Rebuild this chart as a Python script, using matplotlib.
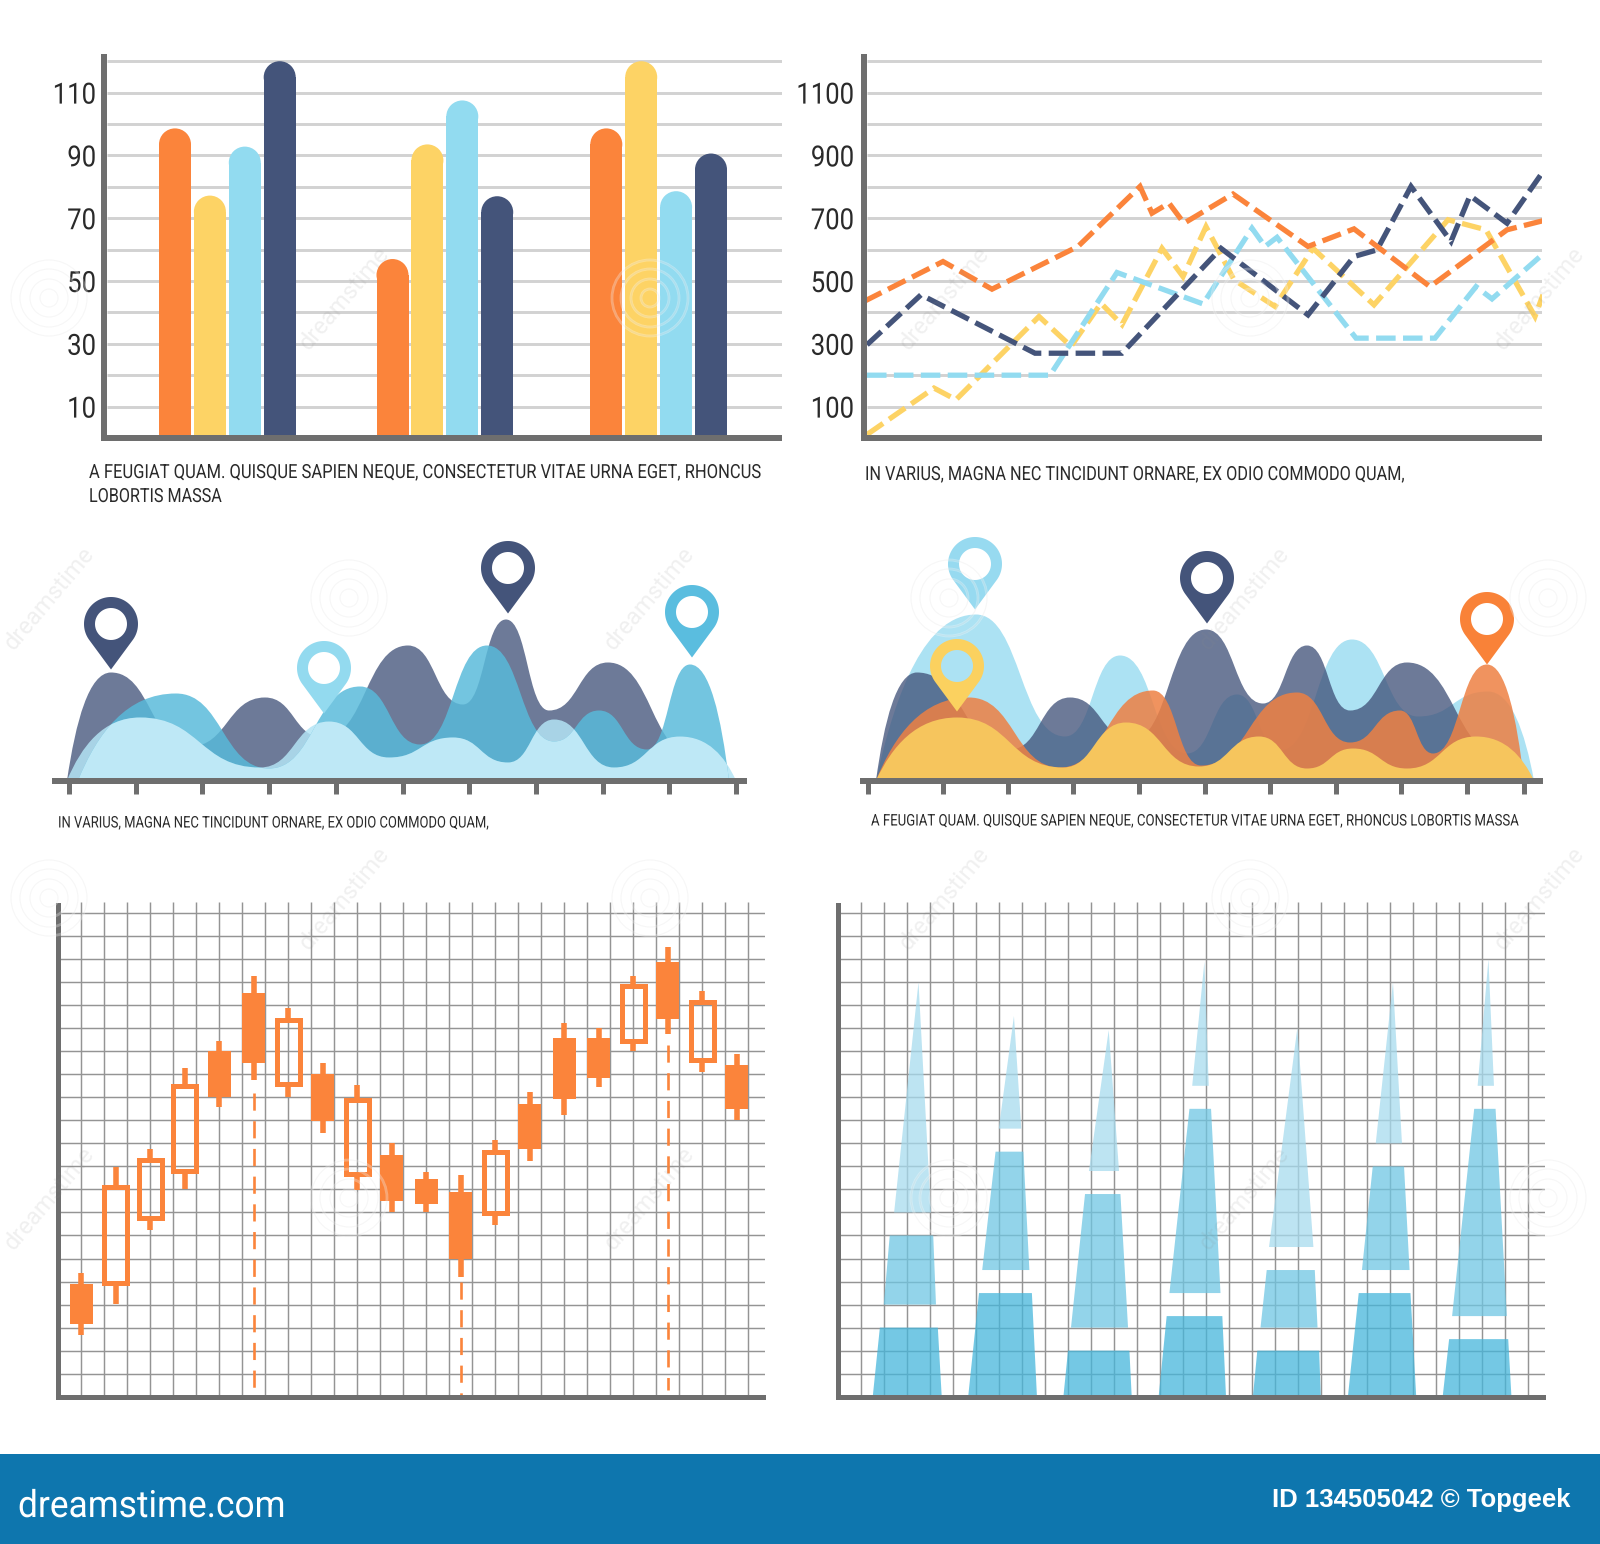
import numpy as np
import matplotlib
matplotlib.use("Agg")
import matplotlib.pyplot as plt
from matplotlib.patches import Circle, Ellipse, PathPatch, Rectangle
from matplotlib.path import Path
from matplotlib.patheffects import AbstractPathEffect
from matplotlib.transforms import Affine2D, Bbox

W, H = 1600, 1544
FONT = ['Roboto', 'DejaVu Sans']

ORANGE = '#FB843B'
YELLOW = '#FDD365'
SKY = '#92DBF0'
NAVY = '#44547A'
GREY = '#6E6E6E'
LIGHTGRID = '#D2D2D2'
CELLGRID = '#949494'
TEXT = '#2A2A2A'

# bar chart
bar_orange = [98.6, 57, 98.6]
bar_yellow = [77.2, 93.5, 120]
bar_sky = [92.8, 107.5, 78.6]
bar_navy = [120, 77, 90.6]
bar_groups = [55, 272.5, 486.3]
bar_ticks = [10, 30, 50, 70, 90, 110]

# dashed lines
orange_x = [0, 79, 128, 214, 276, 288, 305, 320, 369, 444, 490, 566, 643, 679]
orange_y = [435, 562, 474, 610, 801, 716, 748, 684, 777, 610, 666, 482, 663, 692]
yellow_x = [3, 70, 92, 175, 207, 237, 258, 298, 319, 342, 370, 411, 449, 510, 584, 622, 671, 679]
yellow_y = [11, 159, 122, 387, 292, 429, 361, 604, 514, 673, 504, 419, 604, 424, 695, 663, 387, 456]
navy_x = [3, 57, 171, 258, 357, 444, 490, 513, 547, 587, 606, 643, 679]
navy_y = [297, 456, 270, 270, 604, 392, 578, 599, 801, 626, 772, 684, 848]
sky_x = [3, 186, 253, 339, 388, 401, 413, 492, 571, 612, 628, 679]
sky_y = [200, 200, 527, 427, 668, 610, 639, 318, 318, 482, 443, 586]
line_ticks = [100, 300, 500, 700, 900, 1100]

# left wave chart
w1_navy_x = [12, 56, 135, 210, 268, 353, 408, 451, 494, 553, 640, 655]
w1_navy_y = [0, 108, 34, 83, 43, 135, 76, 161, 70, 118, 25, 0]
w1_blue_x = [23, 121, 214, 305, 365, 432, 499, 544, 592, 635, 674]
w1_blue_y = [0, 87, 12, 94, 36, 135, 39, 70, 31, 116, 0]
w1_pale_x = [12, 85, 205, 274, 334, 398, 453, 499, 559, 625, 681]
w1_pale_y = [0, 63, 13, 59, 23, 43, 18, 61, 13, 44, 0]
w1_ticks = [14, 81, 147, 214, 281, 348, 414, 481, 548, 614, 681]
w1_pin_x = [56, 269, 453, 637]
w1_pin_y = [111, 67, 167, 123]
w1_pin_c = ['#44547A', '#93DAEF', '#44547A', '#5ABDDF']

# right wave chart
w2_blue_x = [13, 113, 202, 257, 324, 374, 417, 489, 555, 625, 671]
w2_blue_y = [0, 166, 44, 125, 27, 86, 30, 141, 64, 89, 0]
w2_navy_x = [13, 54, 147, 207, 269, 343, 400, 444, 487, 544, 640, 655]
w2_navy_y = [0, 108, 31, 83, 41, 151, 77, 135, 70, 118, 25, 0]
w2_orange_x = [13, 106, 197, 290, 338, 434, 487, 537, 570, 624, 661]
w2_orange_y = [0, 83, 13, 90, 15, 88, 38, 70, 27, 116, 0]
w2_yellow_x = [13, 94, 200, 263, 336, 396, 444, 490, 544, 613, 671]
w2_yellow_y = [0, 63, 13, 58, 14, 44, 12, 32, 12, 44, 0]
w2_ticks = [5, 80, 145, 210, 276, 342, 407, 473, 538, 604, 661]
w2_pin_x = [112, 344, 624, 94]
w2_pin_y = [171, 157, 116, 69]
w2_pin_c = ['#97DAF0', '#44547A', '#F98238', '#FBD15F']

# candles
candle_high = [5.35, 9.99, 10.74, 14.28, 15.44, 18.26, 16.87, 14.50, 13.53, 11.00,
               9.74, 9.62, 11.14, 13.24, 16.24, 16.02, 18.26, 19.51, 17.63, 14.89]
candle_top = [4.88, 9.12, 10.27, 13.50, 14.99, 17.51, 16.34, 14.01, 12.87, 10.51,
              9.45, 8.89, 10.61, 12.72, 15.57, 15.57, 17.83, 18.87, 17.13, 14.41]
candle_bot = [3.14, 4.92, 7.74, 9.80, 13.02, 14.50, 13.56, 11.98, 9.67, 8.51,
              8.35, 5.96, 7.96, 10.74, 12.91, 13.86, 15.46, 16.38, 14.60, 12.50]
candle_low = [2.68, 4.01, 7.26, 9.00, 12.59, 13.75, 13.00, 11.46, 8.97, 8.03,
              8.03, 5.21, 7.45, 10.22, 12.23, 13.43, 14.99, 15.75, 14.12, 12.01]
candle_hollow = [0, 1, 1, 1, 0, 0, 1, 0, 1, 0, 0, 0, 1, 0, 0, 0, 1, 0, 1, 0]
drop_index = [5, 11, 17]
drop_top = [13.17, 5.0, 15.27]
drop_bot = [0, 0, 0.29]

# stacked trapezoids, x and y in grid cells
t1_left = [1.51, 5.66, 9.80, 13.94, 18.04, 22.17, 26.29]
t1_right = [4.51, 8.65, 12.77, 16.87, 20.99, 25.14, 29.28]
t1_tleft = [1.82, 6.13, 10.00, 14.29, 18.23, 22.64, 26.57]
t1_tright = [4.34, 8.43, 12.67, 16.71, 20.92, 24.89, 29.14]
t1_top = [3, 4.5, 2, 3.5, 2, 4.5, 2.5]
t2_left = [1.99, 6.27, 10.13, 14.41, 18.37, 22.78, 26.70]
t2_right = [4.26, 8.32, 12.61, 16.63, 20.85, 24.85, 29.08]
t2_tleft = [2.25, 6.85, 10.74, 15.28, 18.64, 23.25, 27.66]
t2_tright = [4.14, 8.06, 12.28, 16.22, 20.73, 24.61, 28.59]
t2_bot = [4, 5.5, 3, 4.5, 3, 5.5, 3.5]
t2_top = [7, 10.64, 8.8, 12.5, 5.5, 10, 12.5]
t3_left = [2.44, 6.99, 10.91, 15.40, 18.74, 23.38, 27.81]
t3_right = [4.04, 7.97, 12.22, 16.12, 20.67, 24.52, 28.52]
t3_tip = [3.50, 7.65, 11.77, 15.93, 19.97, 24.13, 28.28]
t3_bot = [8, 11.64, 9.8, 13.5, 6.5, 11, 13.5]
t3_top = [18, 16.53, 15.92, 18.89, 16, 18, 19]

# faint stock photo marks
mark_x = [49, 650, 1250, 349, 949, 1548, 49, 650, 1250, 349, 949, 1548]
mark_y = [298, 298, 298, 598, 598, 598, 898, 898, 898, 1198, 1198, 1198]
stamp_x = [345, 945, 1540, 50, 650, 1245, 345, 945, 1540, 50, 650, 1245]
stamp_y = [298, 298, 298, 598, 598, 598, 898, 898, 898, 1198, 1198, 1198]


class Squeeze(AbstractPathEffect):
    # no condensed font is installed, so narrow the glyphs when they are drawn
    def __init__(self, sx, x0):
        super().__init__()
        self.sx, self.x0 = sx, x0

    def draw_path(self, renderer, gc, tpath, affine, rgbFace=None):
        aff = affine + Affine2D().translate(-self.x0, 0).scale(self.sx, 1).translate(self.x0, 0)
        renderer.draw_path(gc, tpath, aff, rgbFace)


def squeeze(text, sx, x0):
    text.set_path_effects([Squeeze(sx, x0)])
    orig = text.get_window_extent

    def extent(renderer=None, dpi=None):
        bb = orig(renderer, dpi)
        return Bbox.from_extents(x0 + (bb.x0 - x0) * sx, bb.y0, x0 + (bb.x1 - x0) * sx, bb.y1)
    text.get_window_extent = extent


def fit_text(x, y, s, width, size, color=TEXT, va='center', family=FONT):
    # x is the left edge of the squeezed text, the text itself is anchored on its middle
    mid = x + width / 2
    t = fig.text(mid / W, 1 - y / H, s, fontsize=size, color=color, family=family,
                 va=va, ha='center')
    bb = t.get_window_extent(fig.canvas.get_renderer())
    squeeze(t, width / bb.width, mid)
    return t


def axes_px(fig, left, top, right, bottom):
    ax = fig.add_axes([left / W, 1 - bottom / H, (right - left) / W, (bottom - top) / H])
    ax.patch.set_alpha(0)
    for s in ['top', 'right']:
        ax.spines[s].set_visible(False)
    return ax


def style_spines(ax, px, sides=('left', 'bottom')):
    pos = ax.get_position()
    x0, x1 = ax.get_xlim()
    y0, y1 = ax.get_ylim()
    wpx, hpx = pos.width * W, pos.height * H
    for s in ['left', 'bottom']:
        sp = ax.spines[s]
        if s in sides:
            sp.set_linewidth(px * 0.72)
            sp.set_color(GREY)
            sp.set_capstyle('projecting')
            sp.set_zorder(5.5)
        else:
            sp.set_visible(False)
    ax.spines['left'].set_bounds(y0, y1 - (y1 - y0) * (px / 2) / hpx)
    ax.spines['bottom'].set_bounds(x0, x1 - (x1 - x0) * (px / 2) / wpx)


def y_labels(ax, left_px, pad_px, sx):
    ax.tick_params(axis='y', length=0, pad=pad_px * 0.72, labelsize=21, labelcolor=TEXT)
    for lab in ax.get_yticklabels():
        lab.set_family(FONT)
        squeeze(lab, sx, left_px - pad_px)


def wave(ax, xs, ys, color, alpha=1.0, z=2, k=0.5):
    verts = [(xs[0], ys[0])]
    codes = [Path.MOVETO]
    n = len(xs) - 1
    for i in range(n):
        x0, y0, x1, y1 = xs[i], ys[i], xs[i + 1], ys[i + 1]
        dx, dy = x1 - x0, y1 - y0
        c1 = (x0 + k * dx, y0)
        c2 = (x1 - k * dx, y1)
        if i == 0:
            c1 = (x0 + 0.2 * dx, y0 + 0.55 * dy)
        if i == n - 1:
            c2 = (x1 - 0.2 * dx, y1 - 0.55 * dy)
        verts += [c1, c2, (x1, y1)]
        codes += [Path.CURVE4] * 3
    verts.append(verts[0])
    codes.append(Path.CLOSEPOLY)
    patch = PathPatch(Path(verts, codes), facecolor=color, edgecolor='none', alpha=alpha, zorder=z)
    ax.add_patch(patch)
    return patch


def pin(ax, x, y, color, z=6):
    r, height, hole = 27, 72.5, 16
    d = height - r
    b = np.arccos(r / d)
    ang = np.linspace(-np.pi / 2 + b, 1.5 * np.pi - b, 80)
    cy = y + d
    outer = np.column_stack([x + r * np.cos(ang), cy + r * np.sin(ang)])
    outer = np.vstack([[x, y], outer, [x, y]])
    ang2 = np.linspace(2 * np.pi, 0, 60)
    inner = np.column_stack([x + hole * np.cos(ang2), cy + hole * np.sin(ang2)])
    verts = np.vstack([outer, inner])
    codes = ([Path.MOVETO] + [Path.LINETO] * (len(outer) - 1) +
             [Path.MOVETO] + [Path.LINETO] * (len(inner) - 1))
    ax.add_patch(PathPatch(Path(verts, codes), facecolor=color, edgecolor='none', zorder=z))


def wave_axes(fig, left, right):
    ax = axes_px(fig, left, 520, right, 780.5)
    ax.set_xlim(0, right - left)
    ax.set_ylim(0, 260.5)
    style_spines(ax, 6, sides=('bottom',))
    ax.set_yticks([])
    ax.tick_params(axis='x', length=9.7, width=3.6, color=GREY, labelbottom=False)
    return ax


def grid_axes(fig, left, right):
    ax = axes_px(fig, left, 902, right, 1396.7)
    ax.set_xlim(0, (right - left) / 23)
    ax.set_ylim(0, 494.7 / 23.03)
    ax.hlines(np.arange(1, 22), 0, (right - left) / 23, color=CELLGRID, lw=1.05, zorder=1)
    ax.vlines(np.arange(1, 31), 0, 494.7 / 23.03, color=CELLGRID, lw=1.05, zorder=1)
    ax.set_xticks([])
    ax.set_yticks([])
    style_spines(ax, 5)
    return ax


fig = plt.figure(figsize=(W / 100, H / 100), dpi=100, facecolor='white')

# top left: rounded bars
ax = axes_px(fig, 104, 54, 782, 438)
ax.set_xlim(0, 678)
ax.set_ylim(0, 384 / 3.14)
ax.hlines(np.arange(10, 121, 10), 3, 678, color=LIGHTGRID, lw=2.1, zorder=1)
style_spines(ax, 6)
ax.set_xticks([])
ax.set_yticks(bar_ticks)
y_labels(ax, 104, 8, 0.88)
for j, (vals, col) in enumerate(zip([bar_orange, bar_yellow, bar_sky, bar_navy],
                                    [ORANGE, YELLOW, SKY, NAVY])):
    for g, v in zip(bar_groups, vals):
        cx = g + 16 + j * 34.9
        ry = 16 / 3.14
        ax.bar(cx, v - ry, width=32, color=col, zorder=3)
        ax.add_patch(Ellipse((cx, v - ry), 32, 2 * ry, facecolor=col, edgecolor='none', zorder=3))
fit_text(89, 473, 'A FEUGIAT QUAM. QUISQUE SAPIEN NEQUE, CONSECTETUR VITAE URNA EGET, RHONCUS', 672, 14)
fit_text(89, 497, 'LOBORTIS MASSA', 133, 14)

# top right: dashed lines
ax = axes_px(fig, 864, 54, 1542, 438)
ax.set_xlim(0, 678)
ax.set_ylim(0, 384 / 3.14 * 10)
ax.hlines(np.arange(100, 1201, 100), 3, 678, color=LIGHTGRID, lw=2.1, zorder=1)
style_spines(ax, 6)
ax.set_xticks([])
ax.set_yticks(line_ticks)
y_labels(ax, 864, 10, 0.88)
for xs, ys, col in [(yellow_x, yellow_y, YELLOW), (sky_x, sky_y, SKY),
                    (navy_x, navy_y, NAVY), (orange_x, orange_y, ORANGE)]:
    ax.plot(xs, ys, color=col, lw=3.8, dashes=(3.7, 1.4), zorder=3,
            dash_joinstyle='miter', dash_capstyle='butt')
fit_text(865, 475, 'IN VARIUS, MAGNA NEC TINCIDUNT ORNARE, EX ODIO COMMODO QUAM,', 540, 14)

# middle left: waves with pins
ax = wave_axes(fig, 55, 747)
ax.set_xticks(w1_ticks)
wave(ax, w1_navy_x, w1_navy_y, '#3F5078', alpha=0.76, z=2)
wave(ax, w1_pale_x, w1_pale_y, '#B3E4F5', alpha=0.85, z=3)
blue = wave(ax, w1_blue_x, w1_blue_y, '#58BADA', alpha=0.84, z=4)
top = wave(ax, w1_pale_x, w1_pale_y, '#BEE8F6', z=5)
top.set_clip_path(blue)
for x, y, c in zip(w1_pin_x, w1_pin_y, w1_pin_c):
    pin(ax, x, y, c)
fit_text(58, 823, 'IN VARIUS, MAGNA NEC TINCIDUNT ORNARE, EX ODIO COMMODO QUAM,', 431, 11.5)

# middle right: waves with pins
ax = wave_axes(fig, 863, 1543)
ax.set_xticks(w2_ticks)
wave(ax, w2_blue_x, w2_blue_y, '#ACE2F3', z=2)
wave(ax, w2_navy_x, w2_navy_y, '#3F5078', alpha=0.76, z=3)
wave(ax, w2_orange_x, w2_orange_y, '#EE8043', alpha=0.85, z=4)
wave(ax, w2_yellow_x, w2_yellow_y, '#F6C55D', z=5)
for x, y, c in zip(w2_pin_x, w2_pin_y, w2_pin_c):
    pin(ax, x, y, c)
fit_text(871, 821, 'A FEUGIAT QUAM. QUISQUE SAPIEN NEQUE, CONSECTETUR VITAE URNA EGET, RHONCUS LOBORTIS MASSA',
         648, 11.5)

# bottom left: candles
ax = grid_axes(fig, 58, 765)
cx = 1 + 1.5 * np.arange(len(candle_high))
for i, x in enumerate(cx):
    ax.vlines(x, candle_top[i], candle_high[i], color=ORANGE, lw=4, zorder=3)
    ax.vlines(x, candle_low[i], candle_bot[i], color=ORANGE, lw=4, zorder=3)
    h = candle_top[i] - candle_bot[i]
    if candle_hollow[i]:
        ax.bar(x, h, bottom=candle_bot[i], width=1.0, facecolor='none', edgecolor=ORANGE, lw=3.6, zorder=3)
    else:
        ax.bar(x, h, bottom=candle_bot[i], width=1.0, color=ORANGE, zorder=3)
for i, t, b in zip(drop_index, drop_top, drop_bot):
    ax.plot([cx[i], cx[i]], [t, b], color=ORANGE, lw=1.9, dashes=(6.5, 4), zorder=3)

# bottom right: trapezoids
ax = grid_axes(fig, 838, 1545)
for i in range(len(t1_left)):
    ax.fill([t1_left[i], t1_right[i], t1_tright[i], t1_tleft[i]], [0, 0, t1_top[i], t1_top[i]],
            color='#46B6DB', alpha=0.75, lw=0, zorder=2)
    ax.fill([t2_left[i], t2_right[i], t2_tright[i], t2_tleft[i]],
            [t2_bot[i], t2_bot[i], t2_top[i], t2_top[i]],
            color='#6FC6E3', alpha=0.75, lw=0, zorder=2)
    ax.fill([t3_left[i], t3_right[i], t3_tip[i]], [t3_bot[i], t3_bot[i], t3_top[i]],
            color='#A7DBEE', alpha=0.75, lw=0, zorder=2)

# faint rings and words of the stock photo mark, over everything
over = fig.add_axes([0, 0, 1, 1])
over.set_xlim(0, W)
over.set_ylim(H, 0)
over.axis('off')
for x, y in zip(mark_x, mark_y):
    for r in [9, 19, 29, 38]:
        over.add_patch(Circle((x, y), r, fill=False, ec='white', lw=2, alpha=0.3))
        over.add_patch(Circle((x, y), r, fill=False, ec='#888888', lw=0.8, alpha=0.07))
for x, y in zip(stamp_x, stamp_y):
    over.text(x, y, 'dreamstime', color='#8a8a8a', alpha=0.13, fontsize=17, rotation=50,
              family=FONT, ha='center', va='center', clip_on=True)

# footer strip
fig.add_artist(Rectangle((0, 0), 1, (H - 1454) / H, transform=fig.transFigure,
                         facecolor='#0E76AE', edgecolor='none'))
fit_text(18, 1517, 'dreamstime.com', 267, 27, color='white', va='baseline')
fig.text(1570 / W, 1 - 1507 / H, 'ID 134505042 \u00a9 Topgeek', color='white', fontsize=18.5,
         fontweight='bold', family=['Liberation Sans', 'DejaVu Sans'], va='baseline', ha='right')

fig.savefig('out.png', dpi=100)
